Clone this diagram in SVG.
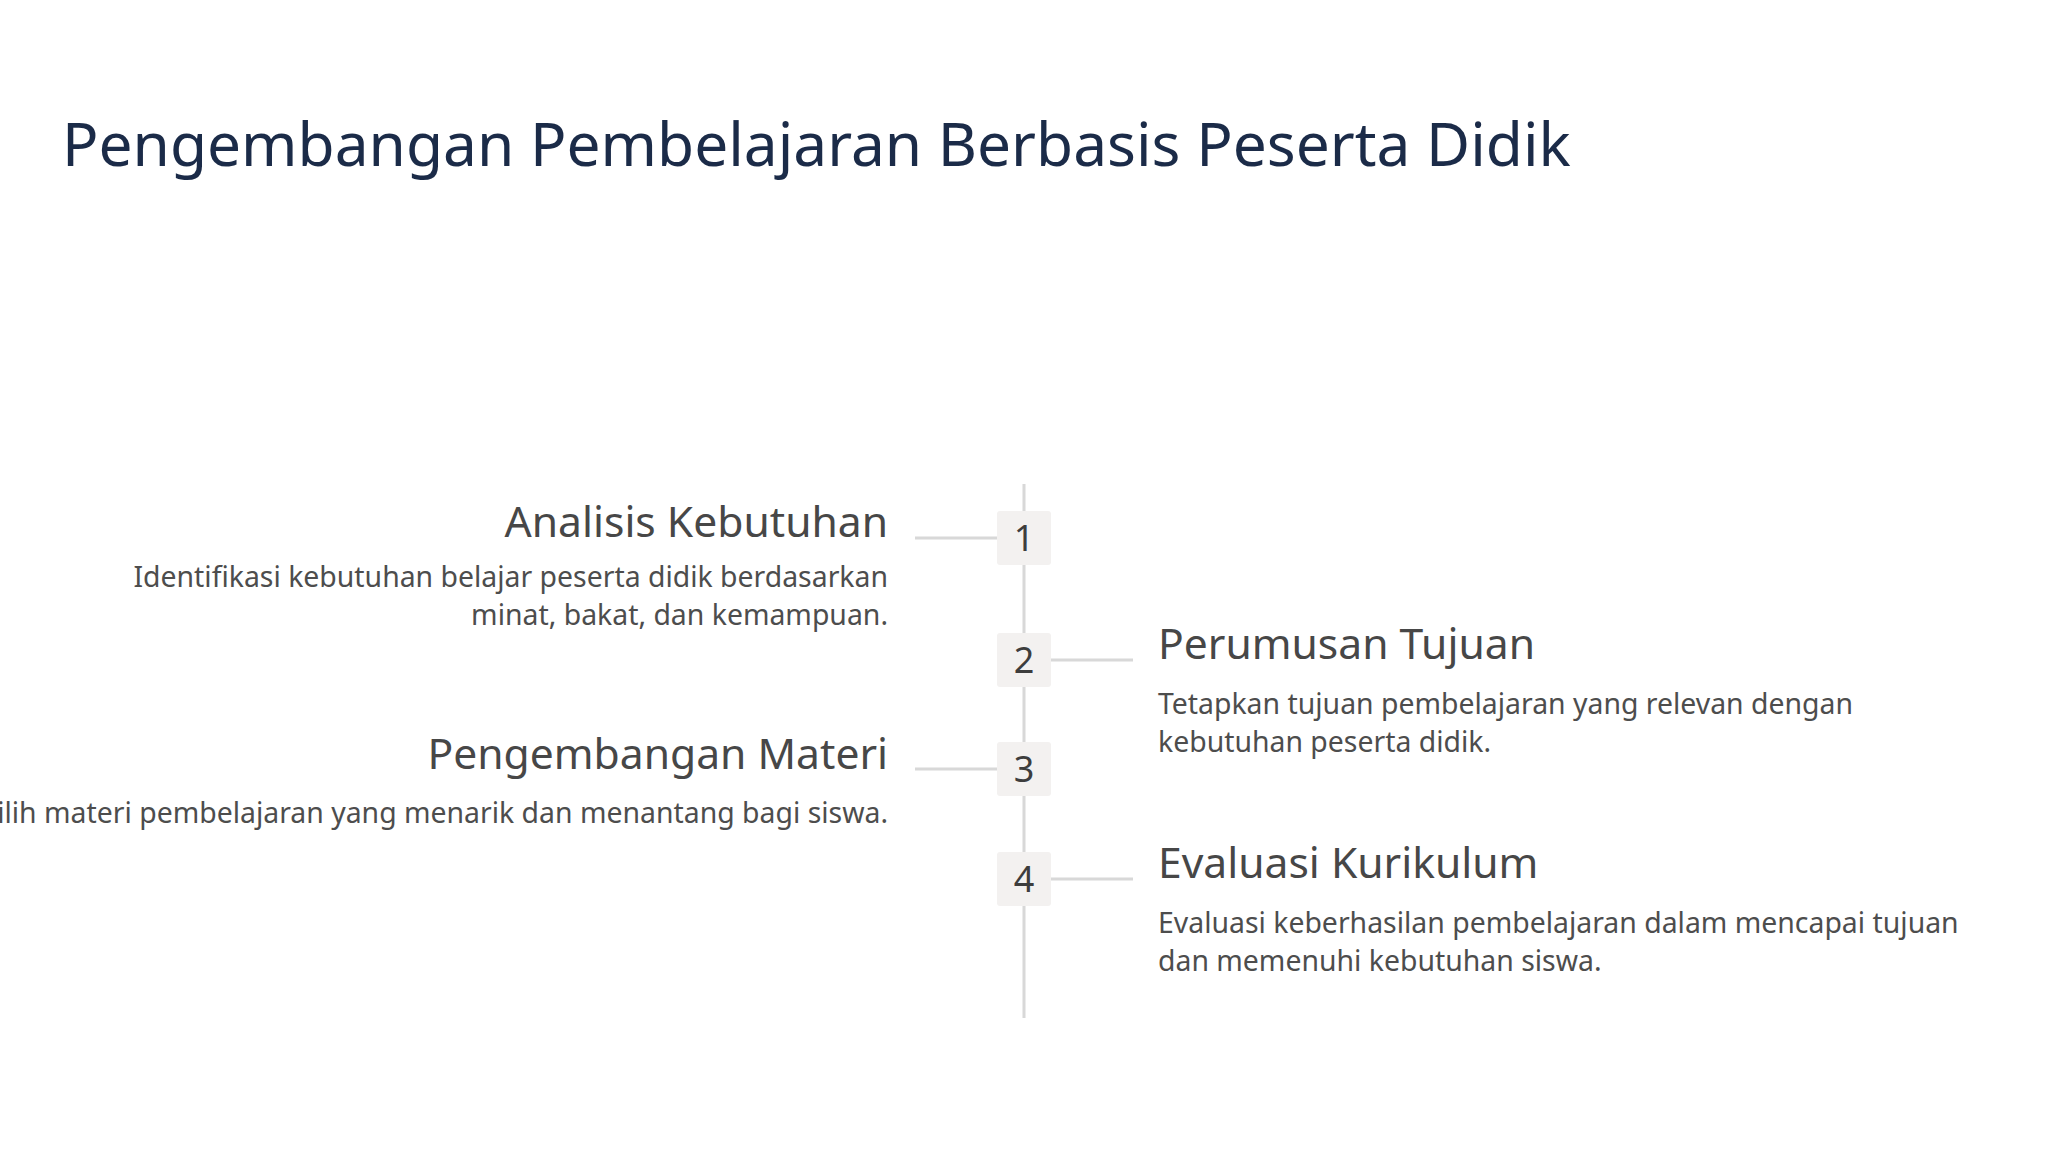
<svg xmlns="http://www.w3.org/2000/svg" width="2048" height="1152" viewBox="0 0 2048 1152">
<style>
.title{font-family:"Noto Sans","Open Sans",sans-serif;font-size:60.4px;fill:#1b2b48}
.head{font-family:"Noto Sans","Open Sans",sans-serif;font-size:42.6px;fill:#474747}
.desc{font-family:"Noto Sans","Open Sans",sans-serif;font-size:28.4px;fill:#4d4d4d}
.num{font-family:"Noto Sans","Open Sans",sans-serif;font-size:36px;fill:#3d3d3d;text-anchor:middle}
.box{fill:#f3f1f0}
.line{stroke:#d8d8d8;stroke-width:3;fill:none}
.r{text-anchor:end}
</style>
<rect width="2048" height="1152" fill="#ffffff"/>
<text class="title" x="62" y="166">Pengembangan Pembelajaran Berbasis Peserta Didik</text>
<g id="connectors">
<line class="line" x1="1024" y1="484" x2="1024" y2="1018"/>
<line class="line" x1="915" y1="538" x2="997" y2="538"/>
<line class="line" x1="1051" y1="660" x2="1133" y2="660"/>
<line class="line" x1="915" y1="769" x2="997" y2="769"/>
<line class="line" x1="1051" y1="879" x2="1133" y2="879"/>
</g>
<g id="step1">
<rect class="box" x="997" y="511" width="54" height="54" rx="3"/>
<text class="num" x="1024" y="551">1</text>
<text class="head r" x="888" y="537">Analisis Kebutuhan</text>
<text class="desc r" x="888" y="587">Identifikasi kebutuhan belajar peserta didik berdasarkan</text>
<text class="desc r" x="888" y="625">minat, bakat, dan kemampuan.</text>
</g>
<g id="step2">
<rect class="box" x="997" y="633" width="54" height="54" rx="3"/>
<text class="num" x="1024" y="673">2</text>
<text class="head" x="1158" y="659">Perumusan Tujuan</text>
<text class="desc" x="1158" y="714">Tetapkan tujuan pembelajaran yang relevan dengan</text>
<text class="desc" x="1158" y="752">kebutuhan peserta didik.</text>
</g>
<g id="step3">
<rect class="box" x="997" y="742" width="54" height="54" rx="3"/>
<text class="num" x="1024" y="782">3</text>
<text class="head r" x="888" y="769">Pengembangan Materi</text>
<text class="desc r" x="888" y="823">Pilih materi pembelajaran yang menarik dan menantang bagi siswa.</text>
</g>
<g id="step4">
<rect class="box" x="997" y="852" width="54" height="54" rx="3"/>
<text class="num" x="1024" y="892">4</text>
<text class="head" x="1158" y="878">Evaluasi Kurikulum</text>
<text class="desc" x="1158" y="933">Evaluasi keberhasilan pembelajaran dalam mencapai tujuan</text>
<text class="desc" x="1158" y="971">dan memenuhi kebutuhan siswa.</text>
</g>
</svg>
